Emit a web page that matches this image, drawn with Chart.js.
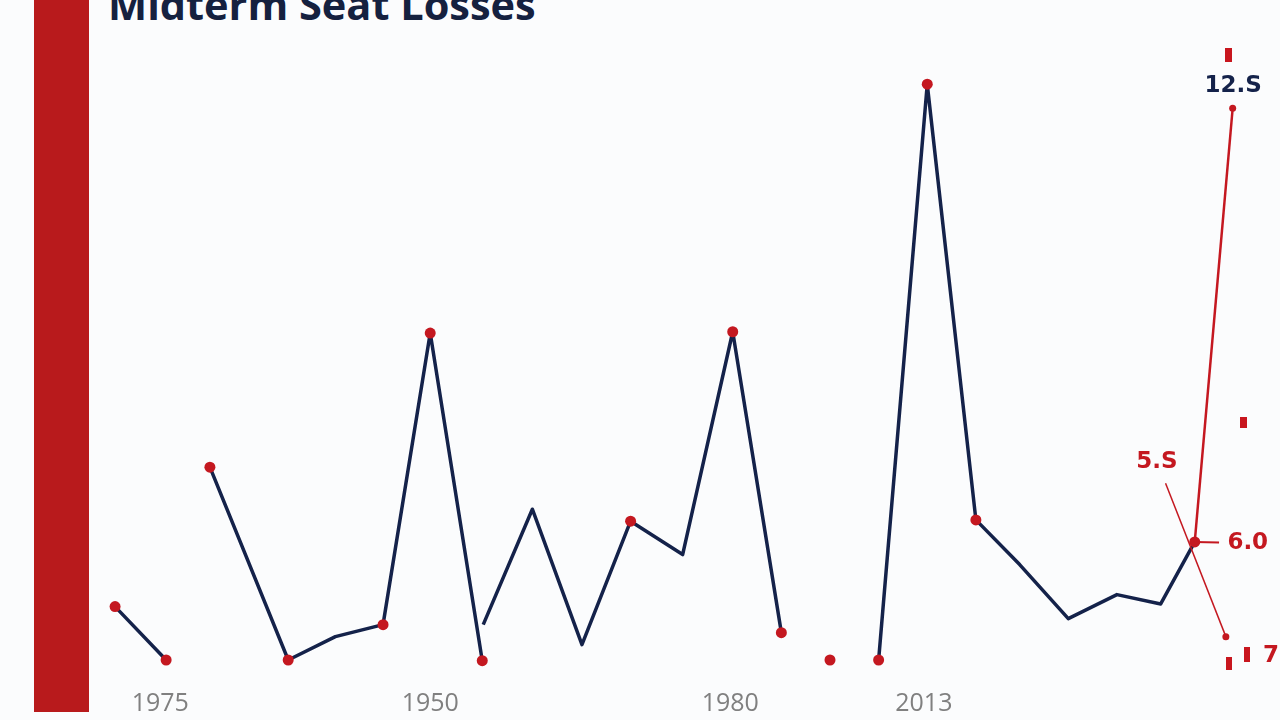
<!DOCTYPE html>
<html>
<head>
<meta charset="utf-8">
<script src="https://cdn.jsdelivr.net/npm/chart.js@4.4.1/dist/chart.umd.min.js"></script>
<style>
    html, body { margin: 0; padding: 0; background: #fbfcfd; }
    body { width: 1280px; height: 720px; position: relative; overflow: hidden; font-family: "Open Sans", sans-serif; }
    .side-bar { position: absolute; left: 34px; top: 0; width: 55px; height: 712px; background: #b81a1c; }
    .title { position: absolute; left: 108px; top: -24px; margin: 0; font-size: 41.5px; font-weight: 700; color: #15213f; line-height: 56px; }
    .chart-wrap { position: absolute; left: 0; top: 0; width: 1280px; height: 720px; }
    .tick-mark { position: absolute; background: #c8161e; }
</style>
</head>
<body>
<div class="side-bar"></div>
<h1 class="title">Midterm Seat Losses</h1>
<div class="tick-mark" style="left:1225px;top:48px;width:7px;height:14px"></div>
<div class="tick-mark" style="left:1240px;top:417px;width:7px;height:11px"></div>
<div class="tick-mark" style="left:1226px;top:657px;width:6px;height:13px"></div>
<div class="tick-mark" style="left:1244px;top:647px;width:6px;height:15px"></div>
<div class="chart-wrap"><canvas id="seatChart" width="1280" height="720"></canvas></div>

<script>
// main series (null = break in the line)
const positions = [0, 1.05, 1.5, 1.95, 3.56, 4.53, 5.51, 6.48, 7.55, 7.56, 7.57, 8.58, 9.6, 10.6, 11.67, 12.7, 13.7, 14.2, 14.7, 15.2, 15.7, 16.7, 17.7, 18.6, 19.6, 20.6, 21.5, 22.2];
const losses = [5.03, 4.23, null, 7.12, 4.23, 4.58, 4.76, 9.13, 4.22, null, 4.76, 6.49, 4.46, 6.31, 5.81, 9.15, 4.64, null, 4.23, null, 4.23, 12.86, 6.33, 5.66, 4.85, 5.21, 5.07, 6.0];

// red pointer lines on the right
const spikeX = [22.2, 22.98];
const spikeY = [6.0, 12.5];
const leaderX = [21.6, 22.84];
const leaderY = [6.88, 4.58];
const stubX = [22.2, 22.7];
const stubY = [6.0, 5.99];

// x axis labels
const tickPos = [0.93, 6.48, 12.65, 16.63];
const tickLabels = ['1975', '1950', '1980', '2013'];

// value notes
const noteText = ['12.S', '6.0', '5.S', '7'];
const noteX = [22.99, 23.29, 21.42, 23.77];
const noteY = [12.83, 5.985, 7.2, 4.29];

const NAVY = '#14224a';
const RED = '#c41820';
const markedIdx = new Set([0, 1, 3, 4, 6, 7, 8, 13, 15, 16, 18, 20, 21, 22, 27]);
const noteColors = [NAVY, RED, RED, RED];

function toPoints(xs, ys) {
    return xs.map((x, i) => ({ x: x, y: ys[i] }));
}

const notesPlugin = {
    id: 'notes',
    afterDatasetsDraw(chart) {
        const { ctx, scales } = chart;
        ctx.save();
        ctx.font = 'bold 23px "DejaVu Sans", sans-serif';
        ctx.textAlign = 'center';
        ctx.textBaseline = 'middle';
        noteText.forEach((t, i) => {
            ctx.fillStyle = noteColors[i];
            ctx.fillText(t, scales.x.getPixelForValue(noteX[i]), scales.y.getPixelForValue(noteY[i]));
        });
        ctx.restore();
    }
};

new Chart(document.getElementById('seatChart'), {
    type: 'line',
    data: {
        datasets: [
            {
                data: toPoints(stubX, stubY),
                borderColor: RED,
                borderWidth: 2,
                pointRadius: 0
            },
            {
                data: toPoints(leaderX, leaderY),
                borderColor: RED,
                borderWidth: 1.5,
                pointRadius: [0, 3.5],
                pointBackgroundColor: RED,
                pointBorderWidth: 0
            },
            {
                data: toPoints(spikeX, spikeY),
                borderColor: RED,
                borderWidth: 2.5,
                pointRadius: [0, 3.5],
                pointBackgroundColor: RED,
                pointBorderWidth: 0
            },
            {
                data: toPoints(positions, losses),
                borderColor: NAVY,
                borderWidth: 3.5,
                borderJoinStyle: 'round',
                spanGaps: false,
                pointRadius: ctx => markedIdx.has(ctx.dataIndex) ? 5.5 : 0,
                pointBackgroundColor: RED,
                pointBorderWidth: 0
            }
        ]
    },
    options: {
        responsive: false,
        animation: false,
        layout: { padding: { left: 100, right: 0, top: 0, bottom: -14 } },
        plugins: { legend: { display: false }, tooltip: { enabled: false } },
        scales: {
            x: {
                type: 'linear',
                min: -0.31,
                max: 23.84,
                grid: { display: false, drawTicks: false },
                border: { display: false },
                afterBuildTicks: axis => { axis.ticks = tickPos.map(v => ({ value: v })); },
                ticks: {
                    padding: 15,
                    autoSkip: false,
                    maxRotation: 0,
                    color: '#808080',
                    font: { family: '"Open Sans", sans-serif', size: 25 },
                    callback: (v, i) => tickLabels[i]
                }
            },
            y: {
                display: false,
                min: 4.02,
                max: 14.04
            }
        }
    },
    plugins: [notesPlugin]
});
</script>
</body>
</html>
